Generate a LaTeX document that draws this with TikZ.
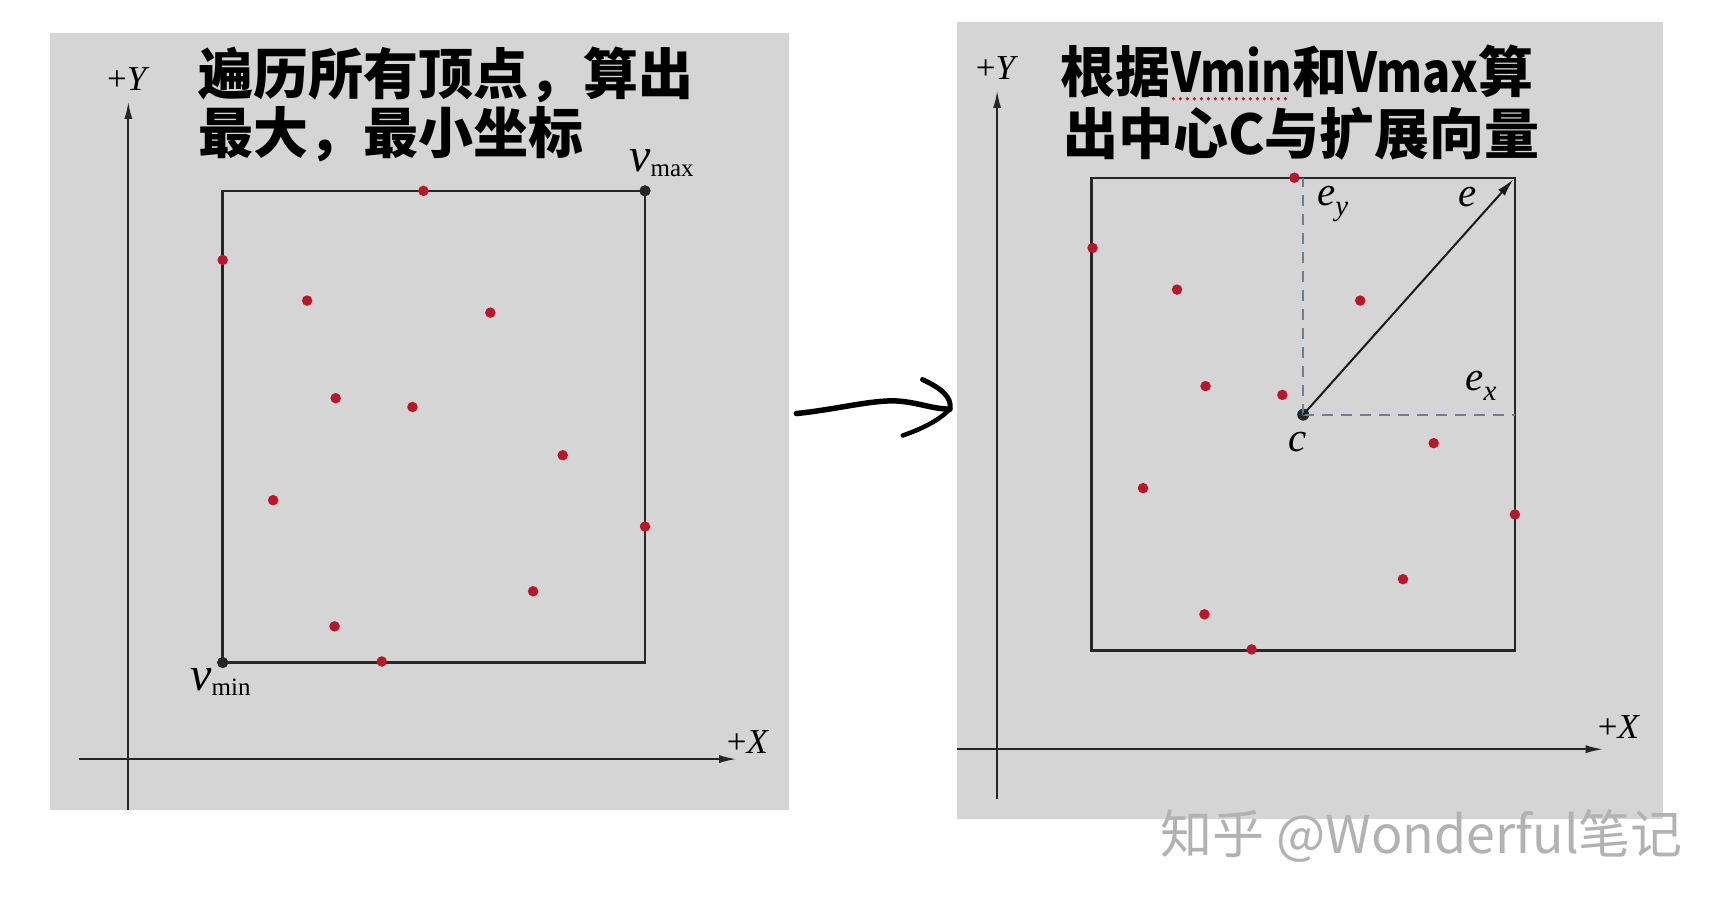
\documentclass[tikz,border=0pt]{standalone}
\usepackage{fontspec}
\setmainfont{Liberation Serif}
\newfontfamily\cjk{Noto Sans CJK SC}
\usetikzlibrary{arrows.meta,positioning,calc}

\definecolor{panelgray}{RGB}{213,213,213}
\definecolor{dotred}{RGB}{185,22,42}
\definecolor{markgray}{RGB}{178,178,178}
\definecolor{dashblue}{RGB}{112,126,146}

\newcommand{\narrow}[1]{\scalebox{0.85}[1]{#1}}

\begin{document}
\begin{tikzpicture}[x=1.097pt, y=-1.097pt,
    panel/.style={fill=panelgray},
    axis/.style={line width=2.3pt, black!85, -{Latex[length=18pt,width=8pt]}},
    aabb/.style={line width=2.4pt, black!85},
    vert/.style={circle, fill=dotred, inner sep=0pt, minimum size=10.5pt},
    ends/.style={circle, fill=black!85, inner sep=0pt, minimum size=11pt},
    title/.style={font=\cjk\bfseries\fontsize{55}{55}\selectfont, inner sep=0pt},
    axlabel/.style={font=\fontsize{35}{35}\selectfont, inner sep=0pt},
    vlabel/.style={font=\fontsize{48}{48}\selectfont, inner sep=0pt},
    elabel/.style={font=\fontsize{41}{41}\selectfont, inner sep=0pt},
    half/.style={dash pattern=on 11pt off 8pt, line width=1.8pt, dashblue},
    stroke/.style={line width=5.5pt, line cap=round, line join=round}
  ]
        \useasboundingbox (0,0) rectangle (1568,823);

        % Left panel: min and max
        \fill[panel] (46,30) rectangle (719,738);
        \coordinate (lo) at (117,738);
        \coordinate (lx0) at (72,692);
        \draw[axis] (lo) -- (117,92) coordinate (ly);
        \draw[axis] (lx0) -- (672,692) coordinate (lx);
        \node[axlabel] (lylab) at (117,72) {+\textit{Y}};
        \node[axlabel] (lxlab) at (682,676) {+\textit{X}};

        \node[ends] (vmin) at (203,604) {};
        \node[ends] (vmax) at (588,174) {};
        \draw[aabb] (vmin.center) rectangle (vmax.center);
        \node[ends] at (vmin) {};
        \node[ends] at (vmax) {};

        \foreach \p [count=\i] in {(386,174),(203,237),(280,274),(447,285),(306,363),(376,371),
                                   (513,415),(249,456),(588,480),(486,539),(305,571),(348,603)}
        \node[vert] (l\i) at \p {};

        \node[vlabel] (vmaxlab) at (603,149) {\textit{v}\raisebox{-0.1em}{\fontsize{25}{25}\selectfont max}};
        \node[vlabel] (vminlab) at (201,622) {\textit{v}\raisebox{-0.1em}{\fontsize{25}{25}\selectfont min}};

        \node[title, anchor=west] (ltitle1) at (181,68) {遍历所有顶点，算出};
        \node[title, anchor=west] (ltitle2) at (181,122) {最大，最小坐标};

        % Hand drawn arrow
        \draw[stroke] (726,377) .. controls (765,373) and (800,363) .. (823,366)
                      .. controls (840,368) and (852,373) .. (866,373) coordinate (tip);
        \draw[stroke, line width=5pt] (841,346) .. controls (858,354) and (868,362) .. (tip);
        \draw[stroke, line width=4.5pt] (823,397) .. controls (840,391) and (855,384) .. (tip);

        % Right panel: centre and extents
        \fill[panel] (872,20) rectangle (1516,747);
        \coordinate (ro) at (909,728);
        \coordinate (rx0) at (872,683);
        \draw[axis] (ro) -- (909,82) coordinate (ry);
        \draw[axis] (rx0) -- (1462,683) coordinate (rx);
        \node[axlabel] (rylab) at (909,62) {+\textit{Y}};
        \node[axlabel] (rxlab) at (1476,663) {+\textit{X}};

        \coordinate (rmin) at (995,593);
        \coordinate (rmax) at (1381,162);
        \draw[aabb] (rmin) rectangle (rmax);

        \node[ends, minimum size=12pt] (c) at (1188,378) {};
        \draw[half] (c.center) -- (c.center |- rmax);
        \draw[half] (c.center) -- (c.center -| rmax);
        \draw[line width=2pt, black!90, -{Latex[length=18pt,width=9pt]}, shorten >=2pt] (c.center) -- (rmax);

        \foreach \p [count=\i] in {(1180,162),(996,226),(1073,264),(1240,274),(1099,352),(1169,360),
                                   (1307,404),(1042,445),(1381,469),(1279,528),(1098,560),(1141,592)}
        \node[vert] (r\i) at \p {};

        \node[elabel] (clab) at (1183,403) {\textit{c}};
        \node[elabel] (eylab) at (1215,186) {\textit{e}\raisebox{-0.25em}{\fontsize{29}{29}\selectfont\textit{y}}};
        \node[elabel] (elab) at (1338,180) {\textit{e}};
        \node[elabel] (exlab) at (1350,352) {\textit{e}\raisebox{-0.25em}{\fontsize{29}{29}\selectfont\textit{x}}};

        \node[title, anchor=base west] (rtitle1a) at (967,84) {根据};
        \node[title, base right=0pt of rtitle1a] (rtitle1b) {\narrow{Vmin}};
        \node[title, base right=0pt of rtitle1b] (rtitle1c) {和\narrow{Vmax}算};
        \node[title, anchor=west] (rtitle2) at (969,122) {出中心C与扩展向量};
        \draw[dotred, line width=3.6pt, line cap=round, dash pattern=on 0pt off 7pt]
              ($(rtitle1b.base west)+(2,6)$) -- ($(rtitle1b.base east)+(-2,6)$);

        % Watermark
        \node[anchor=west, font=\cjk\fontsize{52}{52}\selectfont, text=markgray, inner sep=0pt] (mark) at (1058,762) {知乎 @Wonderful笔记};

\end{tikzpicture}
\end{document}
